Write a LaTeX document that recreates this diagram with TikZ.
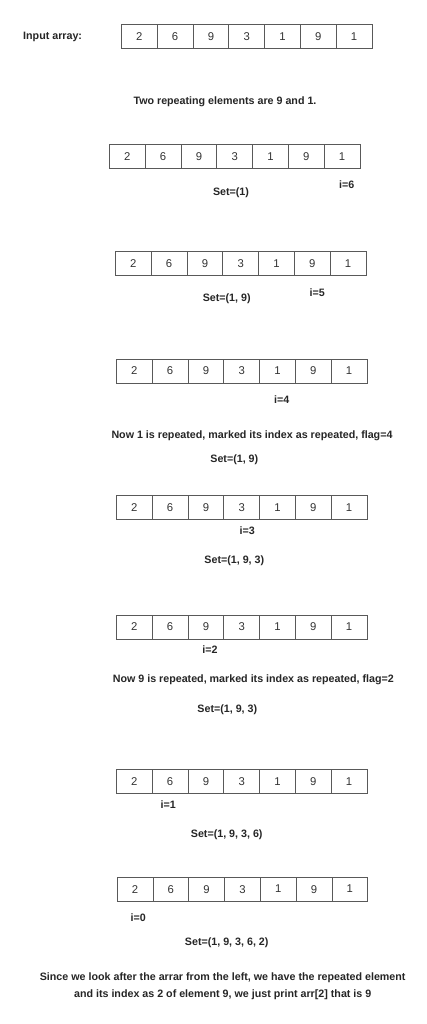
\documentclass[tikz,border=0pt]{standalone}
\usepackage{fontspec}
\setmainfont{Liberation Sans}
\begin{document}
\begin{tikzpicture}[x=1pt,y=-1pt,
  cellbox/.style={draw=black!65,line width=0.8pt,minimum width=35.8pt,minimum height=24pt,inner sep=0pt,anchor=north west,text=black!80,font=\fontsize{11.3}{13}\selectfont},
  lbl/.style={font=\bfseries\fontsize{10.7}{12}\selectfont,text=black!85,inner sep=0pt}]
\useasboundingbox[fill=white] (0,0) rectangle (426,1024);
% array macro: name, left x, top y
\newcommand\drawarr[3]{%
  \foreach \v [count=\k from 0] in {2,6,9,3,1,9,1}{
    \node[cellbox] (#1c\k) at ({#2+\k*35.8},#3) {\v};
  }}
\node[lbl,anchor=west] (inlbl) at (23,36.7) {Input array:};
\drawarr{a}{121}{24.5}
\node[lbl] (two) at (225,101.7) {Two repeating elements are 9 and 1.};
\drawarr{b}{109}{144.3}
\node[lbl] (i6) at (346.7,185) {i=6};
\node[lbl] (s6) at (231,192.3) {Set=(1)};
\drawarr{c}{115}{251.3}
\node[lbl] (i5) at (317.3,292.3) {i=5};
\node[lbl] (s5) at (226.7,299) {Set=(1, 9)};
\drawarr{d}{116}{358.5}
\node[lbl] (i4) at (281.7,400) {i=4};
\node[lbl] (n1) at (252,435.7) {Now 1 is repeated, marked its index as repeated, flag=4};
\node[lbl] (s4) at (234.3,459.3) {Set=(1, 9)};
\drawarr{e}{116}{495.3}
\node[lbl] (i3) at (247.3,531) {i=3};
\node[lbl] (s3) at (234.3,561) {Set=(1, 9, 3)};
\drawarr{f}{116}{614.5}
\node[lbl] (i2) at (210,650) {i=2};
\node[lbl] (n9) at (253.3,680) {Now 9 is repeated, marked its index as repeated, flag=2};
\node[lbl] (s2) at (227.3,709.3) {Set=(1, 9, 3)};
\drawarr{g}{116}{769.3}
\node[lbl] (i1) at (168.3,804.3) {i=1};
\node[lbl] (s1) at (226.7,835) {Set=(1, 9, 3, 6)};
\drawarr{h}{116.7}{876.7}
\node[lbl] (i0) at (138.3,917.7) {i=0};
\node[lbl] (s0) at (226.7,942.3) {Set=(1, 9, 3, 6, 2)};
\node[lbl] (fin1) at (222.7,977.7) {Since we look after the arrar from the left, we have the repeated element};
\node[lbl] (fin2) at (222.7,994.3) {and its index as 2 of element 9, we just print arr[2] that is 9};
\end{tikzpicture}
\end{document}
